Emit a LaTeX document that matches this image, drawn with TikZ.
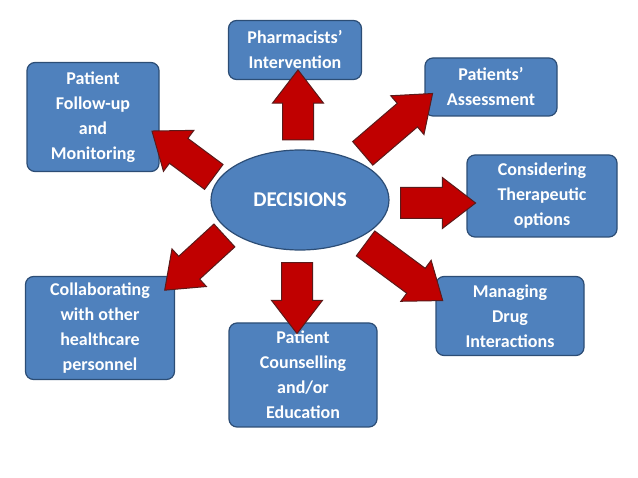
\documentclass[tikz,border=0pt]{standalone}
\usepackage{fontspec}
\setmainfont{Carlito}
\usetikzlibrary{shapes.arrows,shapes.geometric}
\definecolor{bfill}{HTML}{4F81BD}
\definecolor{bdraw}{HTML}{2C4D75}
\definecolor{rfill}{HTML}{C00000}
\definecolor{rdraw}{HTML}{5A1A1A}
\begin{document}
\begin{tikzpicture}[x=1pt,y=-1pt,
 box/.style={draw=bdraw,line width=1.2pt,fill=bfill,rounded corners=8pt,text=white,font=\bfseries\fontsize{18}{25}\selectfont,align=center,inner sep=0pt},
 arr/.style={single arrow,draw=rdraw,line width=1pt,fill=rfill,minimum width=50pt,single arrow head extend=10pt,single arrow tip angle=75,inner xsep=0pt,inner ysep=15pt,text height=0pt,text depth=0pt,anchor=center}]
\useasboundingbox (0,0) rectangle (638,478);
\node[ellipse,draw=bdraw,line width=1.2pt,fill=bfill,minimum width=178pt,minimum height=100pt,text=white,font=\bfseries\fontsize{21}{24}\selectfont] (dec) at (300,200) {DECISIONS};
\node[box,minimum width=133pt,minimum height=59pt] (ph) at (295,50) {Pharmacists’\\Intervention};
\node[box,minimum width=132pt,minimum height=58pt] (pa) at (491,87) {Patients’\\Assessment};
\node[box,minimum width=150pt,minimum height=82pt] (ct) at (542,196) {Considering\\Therapeutic\\options};
\node[box,minimum width=148pt,minimum height=79pt] (md) at (510,316) {Managing\\Drug\\Interactions};
\node[box,minimum width=148pt,minimum height=104pt] (pc) at (303,375) {Patient\\Counselling\\and/or\\Education};
\node[box,minimum width=149pt,minimum height=103pt] (co) at (100,328) {Collaborating\\with other\\healthcare\\personnel};
\node[box,minimum width=132pt,minimum height=109pt] (pf) at (93,117) {Patient\\Follow-up\\and\\Monitoring};
\node[arr,minimum height=70pt,rotate=90] (a1) at (298,115) {};
\node[arr,minimum height=92pt,rotate=40.6] (a2) at (390,130) {};
\node[arr,minimum height=75pt,rotate=0] (a3) at (428,203) {};
\node[arr,minimum height=96pt,rotate=-36.5] (a4) at (396,266) {};
\node[arr,minimum height=71pt,rotate=-90] (a5) at (297,288) {};
\node[arr,minimum height=81pt,rotate=-137.5] (a6) at (202,256) {};
\node[arr,minimum height=77pt,rotate=143.4] (a7) at (191,160) {};
\end{tikzpicture}
\end{document}
